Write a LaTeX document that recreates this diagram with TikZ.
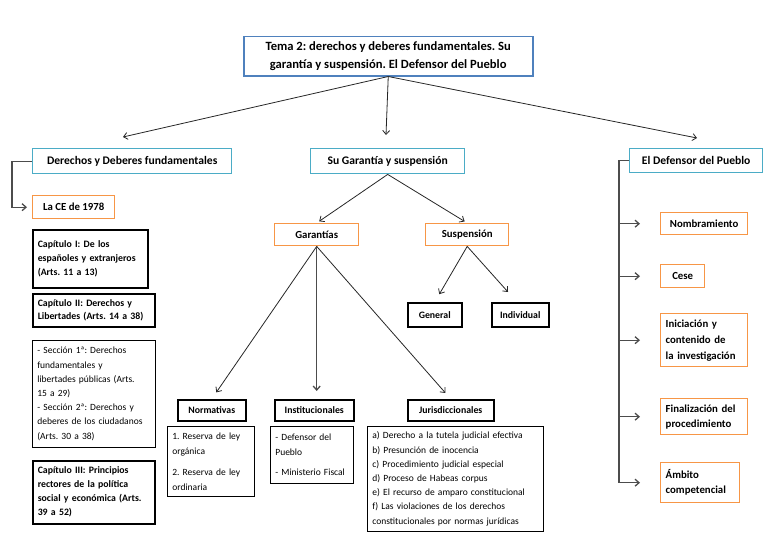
\documentclass[tikz,border=0pt]{standalone}
\usepackage{fontspec}
\setmainfont{Carlito}
\usepackage{tikz}
\usetikzlibrary{arrows.meta}
\definecolor{titleblue}{HTML}{4F81BD}
\definecolor{boxcyan}{HTML}{4BACC6}
\definecolor{boxorange}{HTML}{F79646}
\newcommand{\thinw}{0.8pt}
\newcommand{\thickw}{1.5pt}
\newcommand{\padx}{5pt}
\frenchspacing

\begin{document}
\begin{tikzpicture}[x=1pt, y=-1pt,
        >={Straight Barb[length=4pt,width=7pt]},
        every node/.style={anchor=north west, inner sep=0pt, align=center},
        titlebox/.style={draw=titleblue, line width=\thickw, font=\fontsize{12.6}{18}\selectfont\bfseries},
        cyanbox/.style={draw=boxcyan, line width=1.4pt, font=\fontsize{11.6}{13}\selectfont\bfseries},
        orangebox/.style={draw=boxorange, line width=1.4pt, font=\fontsize{10.8}{15}\selectfont\bfseries},
        thickbox/.style={draw=black, line width=\thickw, font=\fontsize{9.8}{14}\selectfont\bfseries},
        thinbox/.style={draw=black, line width=0.7pt, font=\fontsize{9.5}{14.2}\selectfont},
        leftbox/.style={align=left, inner xsep=\padx},
        arr/.style={->, line width=\thinw, black!85},
        garr/.style={line width=1.3pt, black!70}]
        \useasboundingbox (0,0) rectangle (768,543);

        % top
        \node[titlebox, minimum width=289pt, minimum height=39pt] (tema) at (243,36)
            {Tema 2: derechos y deberes fundamentales. Su\\garantía y suspensión. El Defensor del Pueblo};

        \node[cyanbox, minimum width=199pt, minimum height=25pt] (derechos) at (32,148) {Derechos y Deberes fundamentales};
        \node[cyanbox, minimum width=154pt, minimum height=25pt] (garantia) at (310,148) {Su Garantía y suspensión};
        \node[cyanbox, minimum width=133pt, minimum height=24pt] (defensor) at (629,148) {El Defensor del Pueblo};

        \coordinate (tipL) at (123,137);
        \coordinate (tipC) at (386,135);
        \coordinate (tipR) at (697,138);
        \draw[arr] (tema.south) -- (tipL);
        \draw[arr] (tema.south) -- (tipC);
        \draw[arr] (tema.south) -- (tipR);

        % left column
        \node[orangebox, minimum width=82pt, minimum height=23pt] (lace) at (32,195) {La CE de 1978};
        \node[thickbox, leftbox, text width=105pt, minimum height=58pt] (cap1) at (32,229)
            {Capítulo I: De los\\españoles y extranjeros\\(Arts. 11 a 13)};
        \node[thickbox, leftbox, text width=112pt, minimum height=33pt, font=\fontsize{9.8}{13}\selectfont\bfseries] (cap2) at (32,293)
            {Capítulo II: Derechos y\\Libertades (Arts. 14 a 38)};
        \node[thinbox, leftbox, text width=113pt, minimum height=107pt] (secc) at (32,340)
            {- Sección 1ª: Derechos\\fundamentales y\\libertades públicas (Arts.\\15 a 29)\\- Sección 2ª: Derechos y\\deberes de los ciudadanos\\(Arts. 30 a 38)};
        \node[thickbox, leftbox, text width=112pt, minimum height=63pt] (cap3) at (32,460)
            {Capítulo III: Principios\\rectores de la política\\social y económica (Arts.\\39 a 52)};

        \coordinate (lcorner) at (12,160);
        \draw[garr] (derechos.west) -- (derechos.west -| lcorner);
        \draw[garr, ->, shorten >=5pt] (derechos.west -| lcorner) |- (lace.west);

        % middle
        \node[orangebox, minimum width=84pt, minimum height=22pt] (garant) at (274,223) {Garantías};
        \node[orangebox, minimum width=83pt, minimum height=22pt] (suspen) at (425,223) {Suspensión};
        \draw[arr, shorten >=3pt] (garantia.south) -- (garant.north);
        \draw[arr, shorten >=3pt] (garantia.south) -- (suspen.north);

        \node[thickbox, minimum width=54pt, minimum height=24pt] (general) at (407,302) {General};
        \node[thickbox, minimum width=57pt, minimum height=24pt] (indiv) at (491,302) {Individual};
        \coordinate (tipI) at (508,292);
        \draw[arr, shorten >=9pt] (suspen.south) -- (general.north);
        \draw[arr] (suspen.south) -- (tipI);

        \node[thickbox, minimum width=68pt, minimum height=21pt] (normat) at (177,399) {Normativas};
        \node[thickbox, minimum width=79pt, minimum height=21pt] (instit) at (274,399) {Institucionales};
        \node[thickbox, minimum width=86pt, minimum height=21pt] (jurisd) at (407,399) {Jurisdiccionales};
        \draw[arr, shorten >=8pt] (garant.south) -- (normat.north);
        \draw[garr, ->, shorten >=8pt] (garant.south) -- (garant.south |- instit.north);
        \draw[arr, shorten >=8pt] (garant.south) -- (jurisd.north);

        \node[thinbox, leftbox, text width=77pt, minimum height=70pt, font=\fontsize{9.5}{15}\selectfont] (normdet) at (167,426)
            {1. Reserva de ley\\orgánica\\[6pt]2. Reserva de ley\\ordinaria};
        \node[thinbox, leftbox, text width=73pt, minimum height=57pt, font=\fontsize{9.5}{15}\selectfont] (instdet) at (270,426)
            {- Defensor del\\Pueblo\\[5pt]- Ministerio Fiscal};
        \node[thinbox, leftbox, text width=166pt, minimum height=105pt] (jurdet) at (367,426)
            {a) Derecho a la tutela judicial efectiva\\b) Presunción de inocencia\\c) Procedimiento judicial especial\\d) Proceso de Habeas corpus\\e) El recurso de amparo constitucional\\f) Las violaciones de los derechos\\constitucionales por normas jurídicas};

        % right column
        \node[orangebox, minimum width=87pt, minimum height=22pt] (nomb) at (660,212) {Nombramiento};
        \node[orangebox, minimum width=44pt, minimum height=23pt] (cese) at (660,264) {Cese};
        \node[orangebox, leftbox, text width=77pt, minimum height=53pt, font=\fontsize{10.8}{16}\selectfont\bfseries] (inic) at (660,313)
            {Iniciación y\\contenido de\\la investigación};
        \node[orangebox, leftbox, text width=77pt, minimum height=36pt] (final) at (660,398)
            {Finalización del\\procedimiento};
        \node[orangebox, leftbox, text width=69pt, minimum height=40pt] (ambito) at (660,462)
            {Ámbito\\competencial};

        \coordinate (rtrunk) at (619,160);
        \draw[garr] (defensor.west) -- (defensor.west -| rtrunk) -- (rtrunk |- ambito.west);
        \foreach \b in {nomb,cese,inic,final,ambito}
            \draw[garr, ->, shorten >=20pt] (rtrunk |- \b.west) -- (\b.west);
\end{tikzpicture}
\end{document}
